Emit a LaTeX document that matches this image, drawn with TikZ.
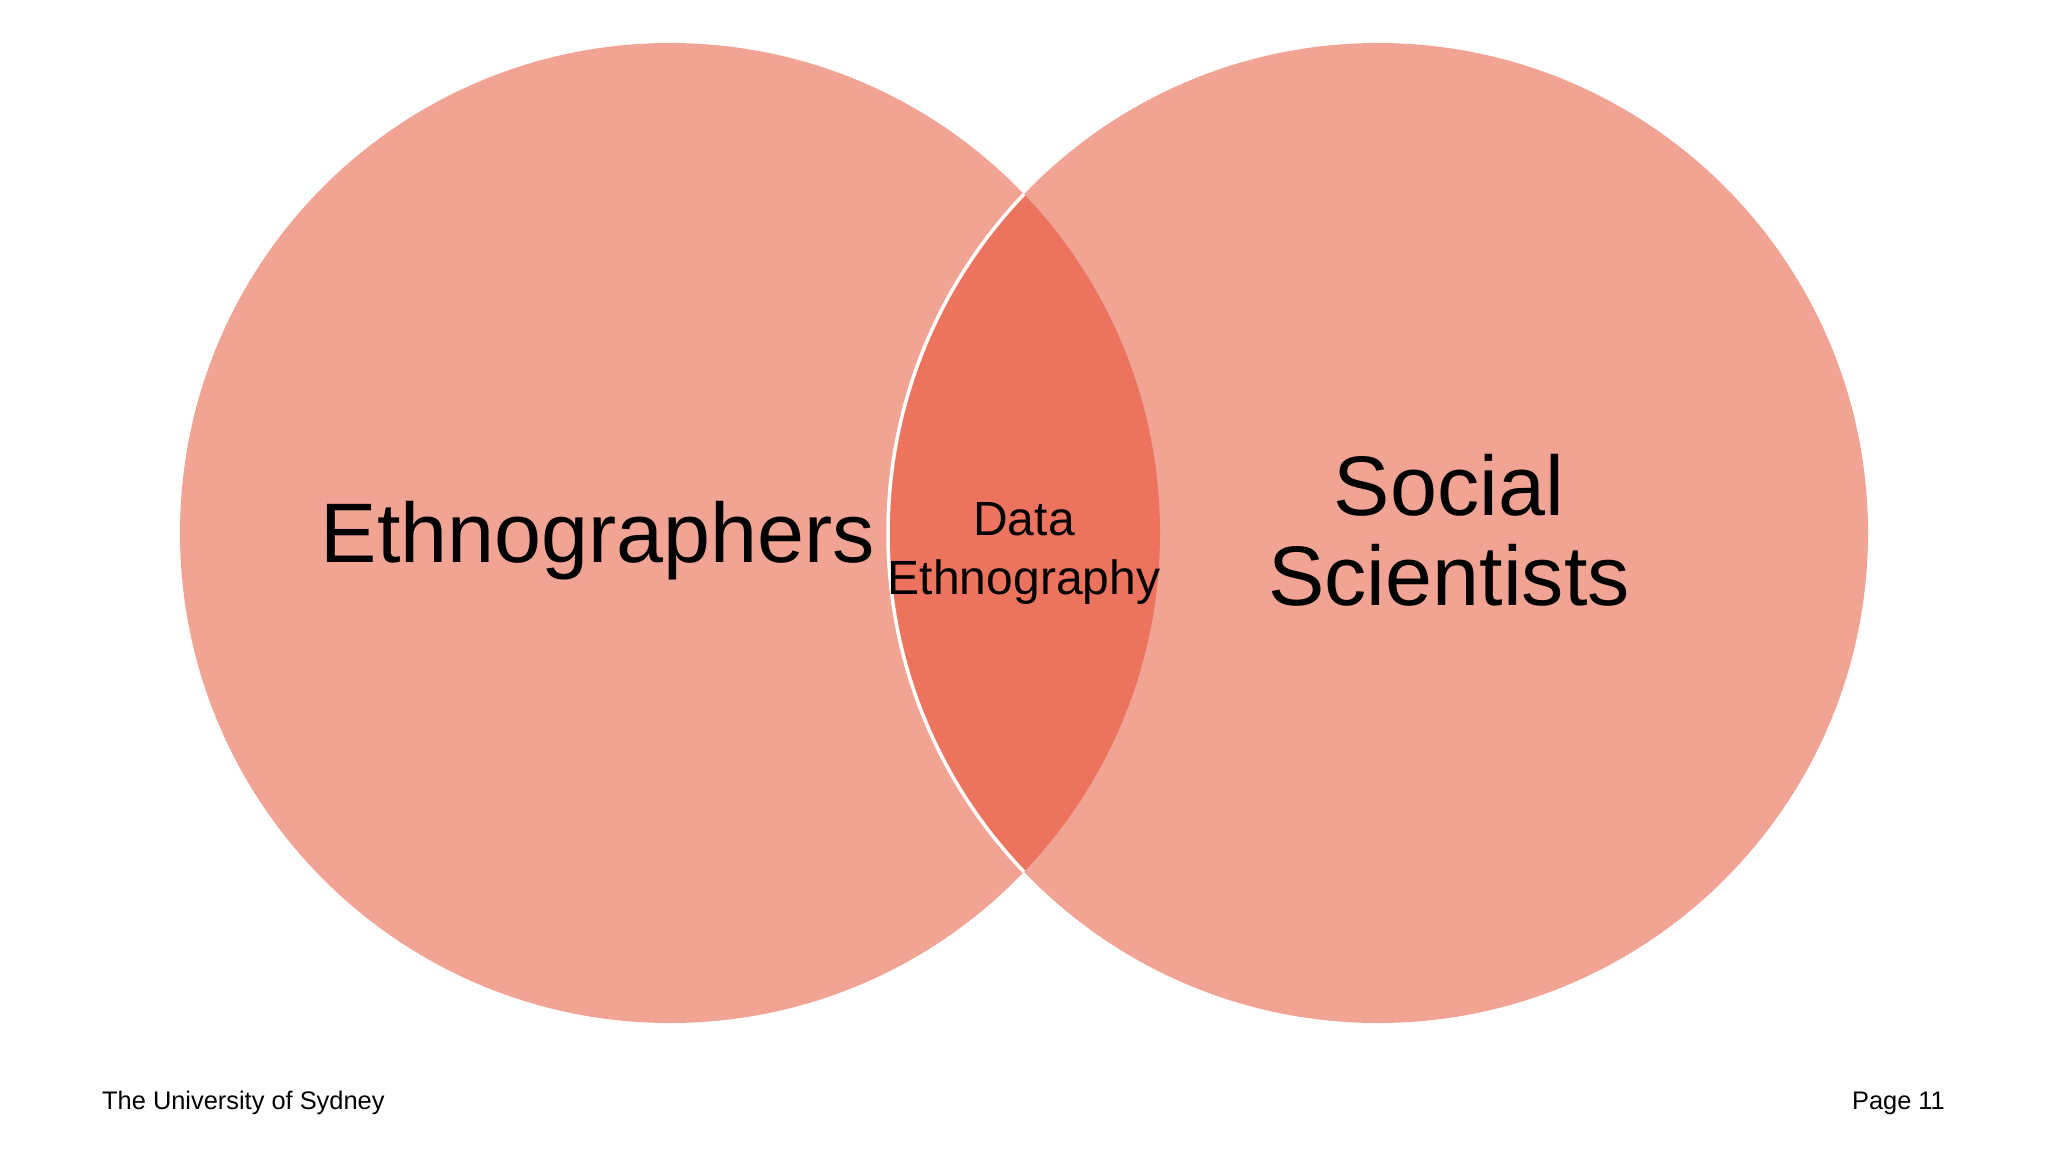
\documentclass[tikz,border=0pt]{standalone}
\usepackage{fontspec}
\setmainfont{Liberation Sans}
\definecolor{lightsalmon}{RGB}{241,164,148}
\definecolor{darksalmon}{RGB}{236,116,95}
\tikzset{
  venn/.style={fill=lightsalmon, draw=none},
  biglabel/.style={font=\fontsize{84.5}{90}\selectfont, align=center, inner sep=0pt, text=black},
  smalllabel/.style={font=\fontsize{48}{59}\selectfont, align=center, inner sep=0pt, text=black},
  footer/.style={font=\fontsize{25.4}{30}\selectfont, inner sep=0pt, text=black}
}
\begin{document}
\begin{tikzpicture}[x=1pt,y=-1pt]
\useasboundingbox (0,0) rectangle (2048,1152);
\fill[white] (0,0) rectangle (2048,1152);
\coordinate (cl) at (670,533);
\coordinate (cr) at (1378,533);
\fill[venn] (cl) circle[radius=490pt];
\fill[venn] (cr) circle[radius=490pt];
\begin{scope}
  \clip (cl) circle[radius=490pt];
  \fill[darksalmon] (cr) circle[radius=490pt];
  \draw[white, line width=3.5pt] (cr) circle[radius=490pt];
\end{scope}
\node[biglabel, anchor=base] (ethno) at (598,562) {Ethnographers};
\node[biglabel, anchor=base] (social) at (1449,605) {Social\\Scientists};
\node[smalllabel, anchor=base] (data) at (1024,594) {Data\\Ethnography};
\node[footer, anchor=base west] (uni) at (102,1109) {The University of Sydney};
\node[footer, anchor=base east] (page) at (1945,1109) {Page 11};
\end{tikzpicture}
\end{document}
